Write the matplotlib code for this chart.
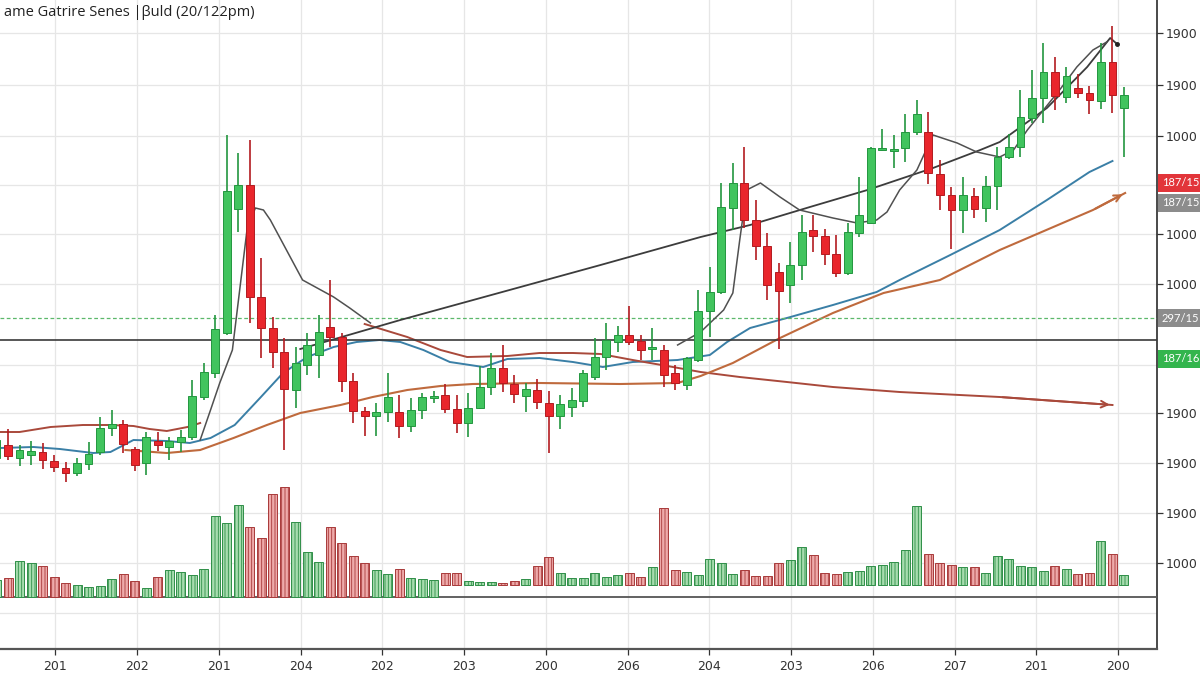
import matplotlib
matplotlib.use('Agg')
import matplotlib.pyplot as plt
import matplotlib.transforms as mtransforms
import numpy as np

title = "ame Gatrire Senes |βuld (20/122pm)"

# candles (price units)
opens = [191, 204, 191, 194, 197, 188, 181, 176, 185, 197, 221, 225, 200, 186, 208, 202, 207, 212, 252, 276,
         316, 440, 464, 352, 321, 297, 259, 284, 294, 322, 312, 268, 238, 233, 237, 237, 223, 239, 251, 254,
         240, 226, 241, 262, 281, 265, 253, 259, 246, 233, 242, 248, 272, 292, 307, 314, 308, 300, 299, 276,
         264, 289, 338, 357, 441, 466, 429, 403, 377, 364, 384, 419, 413, 395, 376, 416, 426, 499, 498, 501,
         517, 517, 475, 454, 439, 453, 441, 463, 492, 502, 531, 551, 577, 552, 561, 556, 548, 587, 541]
highs = [217, 220, 204, 208, 206, 194, 187, 191, 207, 232, 239, 229, 202, 217, 217, 212, 219, 269, 286, 334,
         514, 496, 509, 391, 332, 311, 302, 316, 334, 369, 316, 276, 242, 246, 276, 254, 251, 256, 258, 265,
         254, 256, 283, 296, 304, 274, 266, 270, 258, 254, 261, 279, 311, 326, 323, 343, 314, 321, 304, 284,
         292, 359, 382, 466, 486, 502, 449, 416, 386, 407, 434, 434, 420, 414, 426, 472, 502, 520, 514, 535,
         549, 537, 489, 462, 472, 461, 473, 502, 515, 559, 579, 606, 592, 582, 575, 563, 606, 623, 562]
lows = [179, 189, 183, 184, 180, 177, 167, 173, 179, 194, 213, 196, 178, 174, 198, 189, 197, 209, 249, 271,
        314, 417, 326, 291, 281, 199, 241, 274, 271, 302, 257, 226, 213, 213, 227, 211, 217, 230, 246, 236,
        216, 212, 240, 254, 257, 246, 237, 240, 196, 220, 232, 242, 269, 279, 297, 304, 289, 289, 262, 259,
        259, 287, 312, 355, 419, 421, 389, 349, 300, 346, 369, 397, 384, 372, 374, 412, 425, 498, 481, 487,
        514, 465, 439, 400, 416, 431, 427, 439, 490, 492, 526, 526, 539, 546, 551, 535, 540, 536, 492]
closes = [209, 193, 199, 198, 189, 182, 176, 186, 195, 221, 225, 205, 184, 212, 204, 208, 212, 253, 277, 320,
          458, 464, 352, 321, 297, 260, 286, 304, 317, 312, 268, 238, 233, 237, 252, 223, 239, 252, 253, 240,
          226, 241, 262, 281, 266, 255, 260, 247, 233, 245, 249, 276, 292, 309, 314, 307, 299, 302, 274, 266,
          291, 338, 357, 442, 466, 429, 403, 364, 358, 384, 417, 413, 395, 376, 417, 434, 501, 501, 500, 517,
          535, 476, 454, 439, 454, 440, 463, 492, 502, 532, 551, 577, 553, 573, 556, 549, 587, 554, 554]
volumes = [17, 19, 36, 34, 31, 20, 14, 12, 10, 11, 18, 23, 16, 9, 20, 27, 25, 22, 28, 81,
           74, 92, 70, 59, 103, 110, 75, 45, 35, 70, 54, 41, 34, 27, 23, 28, 19, 18, 17, 12,
           12, 4, 3, 3, 2, 4, 6, 19, 28, 12, 7, 7, 12, 8, 10, 12, 8, 18, 77, 15,
           13, 10, 26, 22, 11, 15, 9, 9, 22, 25, 38, 30, 12, 11, 13, 14, 19, 20, 23, 35,
           79, 31, 22, 20, 18, 18, 12, 29, 26, 19, 18, 14, 19, 16, 11, 12, 44, 31, 10]

# overlay lines (candle index, price)
blue_x = [0.3, 3.2, 5.5, 8.4, 9.9, 11.9, 14.8, 16.8, 18.6, 20.7, 22.9, 24.9, 27.0, 29.3, 31.3, 33.3, 35.1, 37.1,
          39.4, 42.3, 44.4, 47.2, 50.1, 52.7, 55.3, 59.2, 62.0, 63.5, 65.5, 68.7, 72.7, 76.5, 78.5, 82.9, 87.2,
          91.3, 95.0, 97.0]
blue_y = [201, 202, 200, 196, 197, 209, 208, 206, 211, 224, 251, 276, 292, 302, 307, 309, 307, 299,
          287, 282, 290, 291, 287, 282, 287, 289, 294, 307, 321, 331, 344, 357, 369, 394, 419,
          449, 477, 488]
brown_x = [0.3, 2.0, 4.7, 7.5, 9.9, 11.9, 13.3, 14.8, 16.6, 17.7, np.nan, 32.0, 35.7, 38.6, 40.9, 44.4, 47.2,
           50.1, 52.5, 55.3, 58.3, 61.2, 64.6, 68.7, 72.7, 78.5, 87.2, 97.0]
brown_y = [217, 217, 222, 224, 224, 223, 220, 218, 222, 226, np.nan, 325, 312, 299, 292, 293, 296,
           296, 295, 289, 283, 277, 272, 267, 262, 257, 252, 244]
orange_x = [11.2, 14.8, 17.7, 20.6, 23.5, 26.4, 29.9, 32.7, 35.7, 38.6, 41.4, 47.2, 54.2, 59.2, 61.2, 64.0,
            68.1, 72.7, 77.1, 82.0, 87.2, 95.3, 98.1]
orange_y = [199, 196, 199, 211, 224, 236, 244, 252, 259, 263, 265, 266, 265, 266, 273, 286,
            311, 336, 356, 369, 399, 439, 456]
trend_x = [26.4, 35.1, 52.5, 61.2, 65.5, 70.7, 75.7, 81.4, 85.5, 87.2, 91.3, 94.8, 96.8, 97.4]
trend_y = [300, 329, 384, 412, 424, 442, 459, 481, 499, 507, 541, 582, 611, 605]
fast_x = [17.7, 18.6, 19.4, 20.5, 21.8, 22.5, 23.2, 23.8, 26.6, 29.3, 30.7, 32.5, np.nan,
          59.2, 61.2, 63.2, 64.0, 64.6, 65.2, 66.4, 68.1, 69.8, 72.7, 74.8, 76.5, 77.4, 78.5, 80.0,
          81.4, 83.5, 85.2, 87.2, 88.4, 89.6, 91.0, 92.4, 93.9, 95.3, 96.5]
fast_y = [209, 239, 266, 299, 422, 441, 439, 429, 369, 352, 341, 326, np.nan,
          304, 317, 339, 356, 409, 459, 466, 452, 439, 431, 426, 429, 437, 459, 479,
          514, 506, 497, 492, 499, 519, 539, 559, 582, 599, 607]

x_labels = ['201', '202', '201', '204', '202', '203', '200', '206', '204', '203', '206', '207', '201', '200']
y_levels = [616, 564, 513, 415, 365, 236, 186, 136, 86]
y_labels = ['1900', '1900', '1000', '1000', '1000', '1900', '1900', '1900', '1000']
badge_levels = [466, 446, 331, 290]
badge_labels = ['187/15', '187/15', '297/15', '187/16']
badge_colors = ['#e2353a', '#8c8c8c', '#8c8c8c', '#33b54d']
hline_level = 309
dashed_level = 331

plt.rcParams['hatch.linewidth'] = 0.6

fig = plt.figure(figsize=(12, 6.75), dpi=100)
ax = fig.add_axes([0, 26 / 675, 1157 / 1200, 649 / 675])
ax.set_xlim(0.3, 100.87)
ax.set_ylim(0, 649)

o = np.array(opens)
c = np.array(closes)
h = np.array(highs)
l = np.array(lows)
idx = np.arange(len(o))
up = c >= o

green_face, green_edge = '#41c45e', '#23963f'
red_face, red_edge = '#e9262c', '#b31b20'

ax.set_axisbelow(True)
ax.grid(True, which='both', color='#e6e6e6', lw=0.9)

# overlays
ax.plot(blue_x, blue_y, color='#3a7fa6', lw=1.4, zorder=3)
ax.plot(brown_x, brown_y, color='#a9493b', lw=1.4, zorder=3)
ax.annotate('', xy=(brown_x[-1], brown_y[-1]), xytext=(brown_x[-2], brown_y[-2]),
            arrowprops=dict(arrowstyle='->', color='#a9493b', lw=1.4, mutation_scale=12), zorder=3)
ax.plot(orange_x, orange_y, color='#bf6a3d', lw=1.5, zorder=3)
ax.annotate('', xy=(orange_x[-1], orange_y[-1]), xytext=(orange_x[-2], orange_y[-2]),
            arrowprops=dict(arrowstyle='->', color='#bf6a3d', lw=1.5, mutation_scale=12), zorder=3)
ax.plot(trend_x, trend_y, color='#3c3c3c', lw=1.3, zorder=4)
ax.plot(trend_x[-1], trend_y[-1], 'o', color='#222', ms=2.5, zorder=4)
ax.plot(fast_x, fast_y, color='#505050', lw=1.1, zorder=4)

ax.axhline(hline_level, color='#3a3a3a', lw=1.2, zorder=3)
ax.axhline(dashed_level, color='#5cb86b', lw=0.9, ls=(0, (3, 2)), zorder=3)
ax.axhline(52, color='#555555', lw=1.3, zorder=3)

# candles
wick_colors = np.where(up, green_edge, red_edge)
ax.vlines(idx, l, h, colors=wick_colors, lw=1.2, zorder=5)
body = np.maximum(np.abs(c - o), 2)
ax.bar(idx, body, bottom=np.minimum(o, c), width=0.68,
       color=np.where(up, green_face, red_face), edgecolor=np.where(up, green_edge, red_edge),
       linewidth=0.7, zorder=6)

# volume
vax = ax.twinx()
vax.set_ylim(-52, 597)
vax.set_yticks([])
for s in vax.spines.values():
    s.set_visible(False)
vol_bottom = np.where(idx >= 39, 12, 0)
vax.bar(idx, volumes, bottom=vol_bottom, width=0.78,
        color=np.where(up, '#a6dcae', '#eeaaaa'), edgecolor=np.where(up, '#2f8f48', '#a83a3a'),
        hatch='|||||', linewidth=0.7, zorder=2)

# axes styling
ax.set_xticks(np.linspace(5.1, 97.5, 14))
ax.set_xticklabels(x_labels)
ax.yaxis.tick_right()
ax.set_yticks(y_levels)
ax.set_yticklabels(y_labels)
ax.set_yticks([464, 284, 36], minor=True)
ax.tick_params(axis='y', which='minor', length=0)
ax.tick_params(axis='both', which='major', labelsize=9, colors='#333333', length=4, width=0.9)
ax.tick_params(axis='x', pad=4)
ax.tick_params(axis='y', pad=2)
ax.spines['left'].set_visible(False)
ax.spines['top'].set_visible(False)
ax.spines['right'].set_color('#2a2a2a')
ax.spines['right'].set_linewidth(1.2)
ax.spines['bottom'].set_color('#555555')
ax.spines['bottom'].set_linewidth(1.6)

trans = mtransforms.blended_transform_factory(ax.transAxes, ax.transData)
for lvl, txt, col in zip(badge_levels, badge_labels, badge_colors):
    ax.text(1.004, lvl, txt, transform=trans, ha='left', va='center', fontsize=8,
            color='white', clip_on=False, zorder=10, family=['Lato', 'DejaVu Sans'],
            bbox=dict(boxstyle='square,pad=0.35', fc=col, ec='none'))

fig.text(0.003, 0.982, title, ha='left', va='center', fontsize=10.5, color='#222222',
         family=['Open Sans', 'DejaVu Sans'])

fig.savefig('out.png', dpi=100, facecolor='white')
